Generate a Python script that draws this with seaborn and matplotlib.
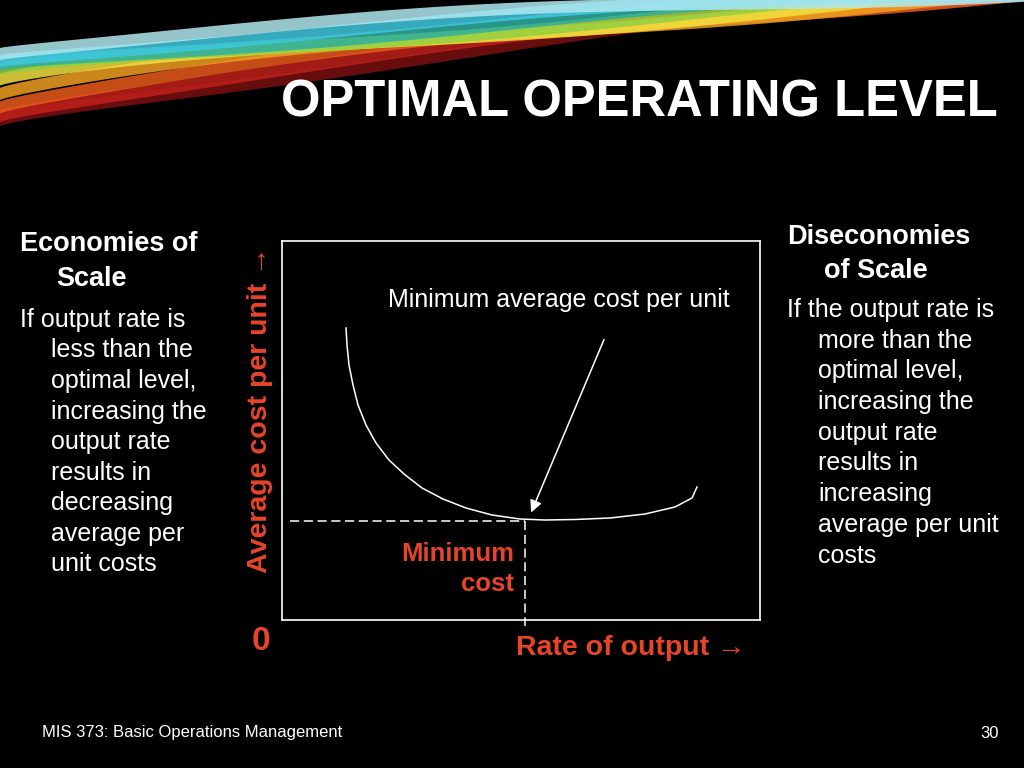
import numpy as np
import pandas as pd
import matplotlib; matplotlib.use('Agg')
import matplotlib.pyplot as plt
import seaborn as sns

# ── Data (axes units 0-100) ─────────────────────────────────────
curve_px = [346, 347, 349, 353, 358, 366, 376, 389, 404, 422, 443, 466,
            492, 520, 545, 575, 610, 645, 675, 692, 697]
curve_py = [328, 345, 365, 385, 405, 425, 443, 460, 474, 488, 499, 508,
            515, 519, 520, 519.5, 518, 514, 507, 498, 487]
curve_x = [(p - 282) / 478 * 100 for p in curve_px]
curve_y = [(620 - p) / 379 * 100 for p in curve_py]
min_x, min_y = 50.8, 26.2
arrow_from = (67.6, 74.7)
arrow_to = (51.9, 27.7)

RED = '#e8442a'
FONT = 'Liberation Sans'
plt.rcParams['font.family'] = FONT

fig = plt.figure(figsize=(10.24, 7.68), dpi=100, facecolor='black')

# ── Decorative swoosh at top ────────────────────────────────────
deco = fig.add_axes([0, 0, 1, 1], facecolor='none')
deco.set_xlim(0, 1024); deco.set_ylim(768, 0); deco.axis('off')
xs = np.linspace(0, 1024, 200)
swoosh_cols = ['#7a1010', '#c0201a', '#e85a1a', '#f0a020', '#f0e040',
               '#90d040', '#30b0a0', '#40c8e0', '#b0e8f0']
for i, c in enumerate(swoosh_cols):
    base = 120 - i * 9
    y = base - (xs / 1024) ** 0.8 * (base + 10) + 6 * np.sin(xs / 160 + i)
    deco.fill_between(xs, y - 6, y + 6, color=c, alpha=0.85, lw=0)

fig.text(0.974, 0.866, 'OPTIMAL OPERATING LEVEL', color='white',
         fontsize=36.5, fontweight='bold', ha='right', va='center')

# ── Chart ───────────────────────────────────────────────────────
ax = fig.add_axes([282/1024, 148/768, 478/1024, 379/768], facecolor='black')
df = pd.DataFrame({'x': curve_x, 'y': curve_y})
sns.lineplot(data=df, x='x', y='y', sort=False, color='white', lw=1.1, ax=ax)
ax.set_xlim(0, 100); ax.set_ylim(0, 100)
ax.set_xticks([]); ax.set_yticks([])
ax.set_xlabel(''); ax.set_ylabel('')
for s in ax.spines.values():
    s.set_color('white'); s.set_linewidth(1.2)

ax.plot([1.7, min_x], [min_y, min_y], color='white', lw=1.1, ls=(0, (6, 3)))
ax.plot([min_x, min_x], [min_y, -1.5], color='white', lw=1.1,
        ls=(0, (6, 3)), clip_on=False)
ax.annotate('', xy=arrow_to, xytext=arrow_from,
            arrowprops=dict(arrowstyle='-|>', color='white', lw=1.1,
                            mutation_scale=18))
ax.text(58, 84.5, 'Minimum average cost per unit', color='white',
        fontsize=18, ha='center', va='center')
ax.text(48.5, 13.5, 'Minimum\ncost', color=RED, fontsize=18.5,
        fontweight='bold', ha='right', va='center', linespacing=1.3)

fig.text(260/1024, 1 - 410/768, 'Average cost per unit →', color=RED,
         fontsize=20.5, fontweight='bold', rotation=90, ha='center', va='center')
fig.text(631/1024, 1 - 648/768, 'Rate of output →', color=RED,
         fontsize=20.5, fontweight='bold', ha='center', va='center')
fig.text(261/1024, 1 - 642/768, '0', color=RED, fontsize=24,
         fontweight='bold', ha='center', va='center')

# ── Side texts ──────────────────────────────────────────────────
fig.text(20/1024, 1 - 244/768, 'Economies of', color='white', fontsize=19.5,
         fontweight='bold', va='center')
fig.text(56/1024, 1 - 279/768, 'Scale', color='white', fontsize=19.5,
         fontweight='bold', va='center')
left = ['If output rate is', 'less than the', 'optimal level,',
        'increasing the', 'output rate', 'results in', 'decreasing',
        'average per', 'unit costs']
for i, t in enumerate(left):
    fig.text((20 if i == 0 else 51)/1024, 1 - (320 + i * 30.5)/768, t,
             color='white', fontsize=18, va='center')

fig.text(787/1024, 1 - 237/768, 'Diseconomies', color='white', fontsize=19.5,
         fontweight='bold', va='center')
fig.text(824/1024, 1 - 271/768, 'of Scale', color='white', fontsize=19.5,
         fontweight='bold', va='center')
right = ['If the output rate is', 'more than the', 'optimal level,',
         'increasing the', 'output rate', 'results in', 'increasing',
         'average per unit', 'costs']
for i, t in enumerate(right):
    fig.text((787 if i == 0 else 818)/1024, 1 - (310 + i * 30.7)/768, t,
             color='white', fontsize=18, va='center')

fig.text(42/1024, 1 - 733/768, 'MIS 373: Basic Operations Management',
         color='white', fontsize=12, va='center')
fig.text(999/1024, 1 - 734/768, '30', color='white', fontsize=12,
         ha='right', va='center')

plt.savefig('out.png', dpi=100, facecolor='black')
